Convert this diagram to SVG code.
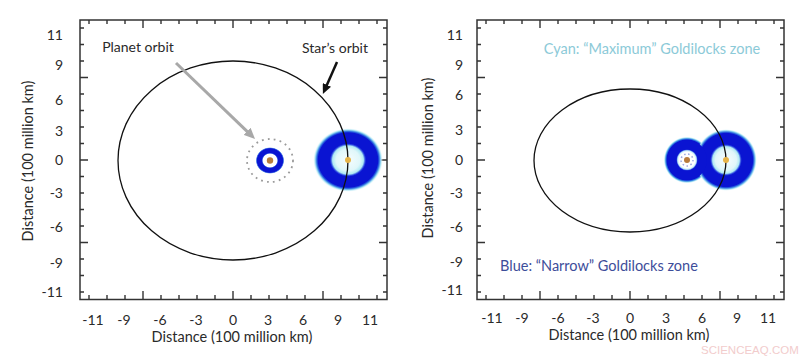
<svg xmlns="http://www.w3.org/2000/svg" xmlns:xlink="http://www.w3.org/1999/xlink" width="800" height="362" viewBox="0 0 800 362">
<style>
text{font-family:Lato,"Liberation Sans",sans-serif;fill:#2a2a2a}
.tk{font-size:14px}
.ty{font-size:14px;text-anchor:end}
.tx{font-size:14px;text-anchor:middle}
.ttl{font-size:14.5px;text-anchor:middle}
.frame{fill:none;stroke:#333;stroke-width:1.5}
.ticks{fill:none;stroke:#333;stroke-width:1.4}
.orbit{fill:none;stroke:#111;stroke-width:1.3}
</style>
<defs>
<radialGradient id="gStarL">
<stop offset="0" stop-color="#f6fdfe"/>
<stop offset="0.34" stop-color="#e0f7fa"/>
<stop offset="0.44" stop-color="#b0eaf4"/>
<stop offset="0.49" stop-color="#2a48e0"/>
<stop offset="0.52" stop-color="#0a14d2"/>
<stop offset="0.85" stop-color="#0a14d2"/>
<stop offset="0.89" stop-color="#2a6ae0"/>
<stop offset="0.94" stop-color="#a0e0f2"/>
<stop offset="1" stop-color="#ffffff" stop-opacity="0"/>
</radialGradient>
<radialGradient id="gStarR">
<stop offset="0" stop-color="#f6fdfe"/>
<stop offset="0.34" stop-color="#e0f7fa"/>
<stop offset="0.43" stop-color="#b0eaf4"/>
<stop offset="0.48" stop-color="#2a48e0"/>
<stop offset="0.51" stop-color="#0a14d2"/>
<stop offset="0.86" stop-color="#0a14d2"/>
<stop offset="0.9" stop-color="#2a6ae0"/>
<stop offset="0.95" stop-color="#a0e0f2"/>
<stop offset="1" stop-color="#ffffff" stop-opacity="0"/>
</radialGradient>
<radialGradient id="gPlanR">
<stop offset="0" stop-color="#ffffff"/>
<stop offset="0.34" stop-color="#ffffff"/>
<stop offset="0.39" stop-color="#c8f0f8"/>
<stop offset="0.43" stop-color="#2a48e0"/>
<stop offset="0.46" stop-color="#0a14d2"/>
<stop offset="0.85" stop-color="#0a14d2"/>
<stop offset="0.9" stop-color="#3080e0"/>
<stop offset="0.95" stop-color="#b0e8f4"/>
<stop offset="1" stop-color="#ffffff" stop-opacity="0"/>
</radialGradient>
<radialGradient id="gPlanRin">
<stop offset="0" stop-color="#ffffff"/>
<stop offset="0.75" stop-color="#ffffff"/>
<stop offset="0.88" stop-color="#c8f0f8"/>
<stop offset="1" stop-color="#2a48e0"/>
</radialGradient>
<radialGradient id="gPlanL">
<stop offset="0" stop-color="#ffffff"/>
<stop offset="0.48" stop-color="#ffffff"/>
<stop offset="0.54" stop-color="#3050e0"/>
<stop offset="0.58" stop-color="#0a14d2"/>
<stop offset="0.88" stop-color="#0a14d2"/>
<stop offset="0.94" stop-color="#6090e8"/>
<stop offset="1" stop-color="#ffffff" stop-opacity="0"/>
</radialGradient>
<marker id="ahG" markerUnits="userSpaceOnUse" markerWidth="11" markerHeight="10" refX="5" refY="5" orient="auto">
<path d="M0,0 L11,5 L0,10 z" fill="#a8a8a8"/>
</marker>
<marker id="ahK" markerUnits="userSpaceOnUse" markerWidth="10" markerHeight="9" refX="5" refY="4.5" orient="auto">
<path d="M0,0 L10,4.5 L0,9 z" fill="#111"/>
</marker>
<g id="axes">
<rect class="frame" x="80" y="20" width="307" height="279.5"/>
<path class="ticks" d="M89 299v-4M107 299v-4M125 299v-4M161 299v-4M179 299v-4M197 299v-4M215 299v-4M251 299v-4M269 299v-4M287 299v-4M305 299v-4M341 299v-4M359 299v-4M377 299v-4M143 299v-8M233 299v-8M323 299v-8
M89 20v4M107 20v4M125 20v4M161 20v4M179 20v4M197 20v4M215 20v4M251 20v4M269 20v4M287 20v4M305 20v4M341 20v4M359 20v4M377 20v4M143 20v8M233 20v8M323 20v8
M80 28h4M80 44.5h4M80 61h4M80 77.5h8M80 94h4M80 110.5h4M80 127h4M80 143.5h4M80 160h8M80 176.5h4M80 193h4M80 209.5h4M80 226h4M80 242.5h8M80 259h4M80 275.5h4M80 292h4
M387 28h-4M387 44.5h-4M387 61h-4M387 77.5h-8M387 94h-4M387 110.5h-4M387 127h-4M387 143.5h-4M387 160h-8M387 176.5h-4M387 193h-4M387 209.5h-4M387 226h-4M387 242.5h-8M387 259h-4M387 275.5h-4M387 292h-4"/>
</g>
</defs>
<rect width="800" height="362" fill="#ffffff"/>

<!-- Left panel -->
<g id="left-panel">
<use xlink:href="#axes" href="#axes"/>
<g id="left-yticks" class="tk">
<text class="ty" x="63" y="40">11</text>
<text class="ty" x="63" y="70">9</text>
<text class="ty" x="63" y="105">6</text>
<text class="ty" x="63" y="136">3</text>
<text class="ty" x="63" y="165">0</text>
<text class="ty" x="63" y="198">-3</text>
<text class="ty" x="63" y="232">-6</text>
<text class="ty" x="63" y="268">-9</text>
<text class="ty" x="63" y="297">-11</text>
</g>
<g id="left-xticks">
<text class="tx" x="93" y="325">-11</text>
<text class="tx" x="124" y="325">-9</text>
<text class="tx" x="160" y="325">-6</text>
<text class="tx" x="196" y="325">-3</text>
<text class="tx" x="233" y="325">0</text>
<text class="tx" x="268" y="325">3</text>
<text class="tx" x="303" y="325">6</text>
<text class="tx" x="338" y="325">9</text>
<text class="tx" x="370" y="325">11</text>
</g>
<text class="ttl" x="232" y="342">Distance (100 million km)</text>
<text class="ttl" transform="translate(33,161) rotate(-90)">Distance (100 million km)</text>

<g id="left-star-zone">
<ellipse cx="348" cy="160" rx="35" ry="32" fill="url(#gStarL)"/>
</g>
<g id="left-planet-zone">
<ellipse cx="270" cy="160.5" rx="14.5" ry="13.5" fill="url(#gPlanL)"/>
<ellipse cx="270" cy="160.5" rx="23" ry="21.5" fill="none" stroke="#9a9a9a" stroke-width="1.8" stroke-dasharray="1.8 4.2"/>
</g>
<ellipse id="left-star-orbit" class="orbit" cx="233" cy="160.5" rx="115" ry="99.5"/>
<circle cx="348" cy="160" r="3" fill="#e6b448"/>
<circle cx="270" cy="160.5" r="3.2" fill="#b87c3c"/>

<g id="left-labels">
<text class="tk" x="138" y="52" text-anchor="middle">Planet orbit</text>
<text class="tk" x="335" y="53" text-anchor="middle">Star’s orbit</text>
</g>
<g id="connectors">
<line x1="176" y1="63" x2="250.7" y2="134.8" stroke="#a8a8a8" stroke-width="3" marker-end="url(#ahG)"/>
<line x1="337" y1="62" x2="324.9" y2="89.4" stroke="#111" stroke-width="2.5" marker-end="url(#ahK)"/>
</g>
</g>

<!-- Right panel -->
<g id="right-panel">
<use xlink:href="#axes" href="#axes" transform="translate(397,0)"/>
<g id="right-yticks">
<text class="ty" x="463" y="40">11</text>
<text class="ty" x="463" y="70">9</text>
<text class="ty" x="463" y="100">6</text>
<text class="ty" x="463" y="135">3</text>
<text class="ty" x="463" y="165">0</text>
<text class="ty" x="463" y="198">-3</text>
<text class="ty" x="463" y="232">-6</text>
<text class="ty" x="463" y="267">-9</text>
<text class="ty" x="463" y="295">-11</text>
</g>
<g id="right-xticks">
<text class="tx" x="492" y="323">-11</text>
<text class="tx" x="522" y="323">-9</text>
<text class="tx" x="558" y="323">-6</text>
<text class="tx" x="593" y="323">-3</text>
<text class="tx" x="630" y="323">0</text>
<text class="tx" x="666" y="323">3</text>
<text class="tx" x="702" y="323">6</text>
<text class="tx" x="737" y="323">9</text>
<text class="tx" x="768" y="323">11</text>
</g>
<text class="ttl" x="629" y="340">Distance (100 million km)</text>
<text class="ttl" transform="translate(433,158) rotate(-90)">Distance (100 million km)</text>

<g id="right-planet-zone">
<circle cx="687" cy="160" r="23.5" fill="url(#gPlanR)"/>
</g>
<g id="right-star-zone">
<circle cx="726" cy="160" r="31" fill="url(#gStarR)"/>
</g>
<circle cx="687" cy="160" r="20" fill="#0a14d2"/>
<circle cx="687" cy="160" r="10.5" fill="url(#gPlanRin)"/>
<circle cx="687" cy="160" r="6" fill="none" stroke="#9aa8e0" stroke-width="1.5" stroke-dasharray="1.5 2.6"/>
<ellipse id="right-star-orbit" class="orbit" cx="630" cy="160.5" rx="96" ry="71.5"/>
<circle cx="726" cy="160" r="3" fill="#e6b448"/>
<circle cx="687" cy="160" r="3" fill="#b87c3c"/>

<text x="652" y="54" font-size="14.5" text-anchor="middle" style="fill:#8ccad8">Cyan: “Maximum” Goldilocks zone</text>
<text x="500" y="271" font-size="14.5" style="fill:#3d4d9a">Blue: “Narrow” Goldilocks zone</text>
</g>

<text x="701" y="354" font-size="11.5" style="font-family:'Liberation Sans Narrow','Liberation Sans',sans-serif;fill:#f2cccc">SCIENCEAQ.COM</text>
</svg>
